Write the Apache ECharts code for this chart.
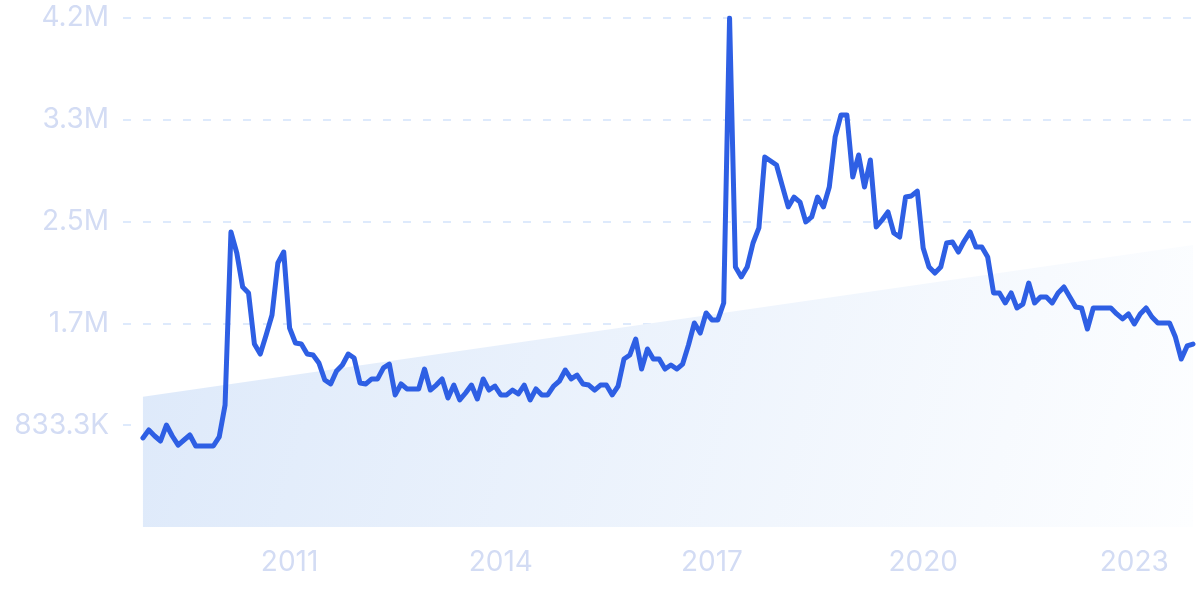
<!DOCTYPE html>
<html>
<head>
<meta charset="utf-8">
<script src="https://cdn.jsdelivr.net/npm/echarts@6/dist/echarts.min.js"></script>
<style>
html,body{margin:0;padding:0;background:#fff;}
#chart{width:1200px;height:599px;}
</style>
</head>
<body>
<div id="chart"></div>
<script>
// Monthly categories: Dec 2008 .. Nov 2023
const firstYear = 2008, firstMonth = 12, monthCount = 180;
const months = [];
for (let k = 0; k < monthCount; k++) {
  const m0 = (firstMonth - 1) + k;
  const y = firstYear + Math.floor(m0 / 12);
  const m = (m0 % 12) + 1;
  months.push(y + '-' + String(m).padStart(2, '0'));
}

// Series values in thousands
const valuesK = [
  729, 794, 745, 704, 835, 745, 671, 712, 753, 663,
  663, 663, 663, 737, 999, 2415, 2243, 1965, 1916, 1498,
  1416, 1572, 1735, 2161, 2251, 1629, 1506, 1498, 1416, 1408,
  1343, 1203, 1171, 1277, 1326, 1416, 1383, 1179, 1171, 1212,
  1212, 1302, 1334, 1081, 1171, 1130, 1130, 1130, 1293, 1121,
  1162, 1212, 1056, 1162, 1040, 1097, 1162, 1048, 1212, 1121,
  1154, 1081, 1081, 1121, 1089, 1162, 1040, 1130, 1081, 1081,
  1154, 1195, 1285, 1212, 1244, 1171, 1162, 1121, 1162, 1162,
  1081, 1154, 1375, 1408, 1539, 1293, 1457, 1375, 1375, 1293,
  1326, 1293, 1334, 1490, 1670, 1588, 1752, 1695, 1695, 1834,
  4167, 2128, 2047, 2128, 2325, 2448, 3029, 2996, 2963, 2791,
  2620, 2701, 2660, 2497, 2538, 2701, 2620, 2783, 3193, 3373,
  3373, 2865, 3045, 2783, 3004, 2456, 2513, 2579, 2407, 2374,
  2701, 2710, 2750, 2284, 2128, 2079, 2128, 2325, 2333, 2251,
  2341, 2415, 2292, 2292, 2210, 1916, 1916, 1834, 1916, 1793,
  1825, 1997, 1834, 1883, 1883, 1834, 1916, 1965, 1883, 1801,
  1793, 1621, 1793, 1793, 1793, 1793, 1744, 1703, 1744, 1662,
  1744, 1793, 1719, 1670, 1670, 1670, 1555, 1375, 1482, 1498
];

// Trend band (first and last month values, thousands)
const trendK = [1067, 2308];

// Tick labels
const tickYears = [2011, 2014, 2017, 2020, 2023];
const yStep = 2500000 / 3;   // 833.3K
const yMax = yStep * 5;      // 4.2M

const baseYear = 2011;
function monthOffset(label) {
  const [y, m] = label.split('-').map(Number);
  return (y - baseYear) * 12 + (m - 1);
}

const lineData = months.map((mo, i) => [monthOffset(mo), valuesK[i] * 1000]);
const trendData = [
  [monthOffset(months[0]), trendK[0] * 1000],
  [monthOffset(months[months.length - 1]), trendK[1] * 1000]
];

const fontFamily = 'Inter, "Noto Sans", sans-serif';
const labelColor = '#d3dcf4';

const chart = echarts.init(document.getElementById('chart'), null, { renderer: 'canvas' });
chart.setOption({
  animation: false,
  backgroundColor: '#ffffff',
  grid: { left: 123, right: 7, top: 18, bottom: 72, containLabel: false },
  xAxis: {
    type: 'value',
    min: monthOffset(months[0]) - 3.4,
    max: monthOffset(months[months.length - 1]),
    axisLine: { show: false },
    axisTick: { show: false },
    splitLine: { show: false },
    axisLabel: {
      customValues: tickYears.map(y => (y - baseYear) * 12),
      formatter: v => String(baseYear + Math.round(v / 12)),
      color: labelColor,
      fontFamily: fontFamily,
      fontSize: 28,
      margin: 22
    }
  },
  yAxis: {
    type: 'value',
    min: 0,
    max: yMax,
    interval: yStep,
    axisLine: { show: false },
    axisTick: { show: false },
    splitLine: {
      show: true,
      showMinLine: false,
      lineStyle: { color: '#d4e3fb', type: [8, 12], width: 1.5 }
    },
    axisLabel: {
      color: labelColor,
      fontFamily: fontFamily,
      fontSize: 28,
      margin: 14,
      formatter: v => {
        if (v <= 0) return '';
        if (v >= 1e6) return (v / 1e6).toFixed(1) + 'M';
        return (v / 1e3).toFixed(1) + 'K';
      }
    }
  },
  series: [
    {
      name: 'trend',
      type: 'line',
      data: trendData,
      symbol: 'none',
      lineStyle: { width: 0, opacity: 0 },
      areaStyle: {
        opacity: 1,
        color: new echarts.graphic.LinearGradient(0, 0, 1, 1, [
          { offset: 0, color: '#dde9fa' },
          { offset: 1, color: '#fdfeff' }
        ])
      },
      z: 1,
      silent: true
    },
    {
      name: 'value',
      type: 'line',
      data: lineData,
      symbol: 'none',
      lineStyle: { color: '#2e5fe4', width: 5, cap: 'round', join: 'round' },
      z: 3
    }
  ]
});
</script>
</body>
</html>
